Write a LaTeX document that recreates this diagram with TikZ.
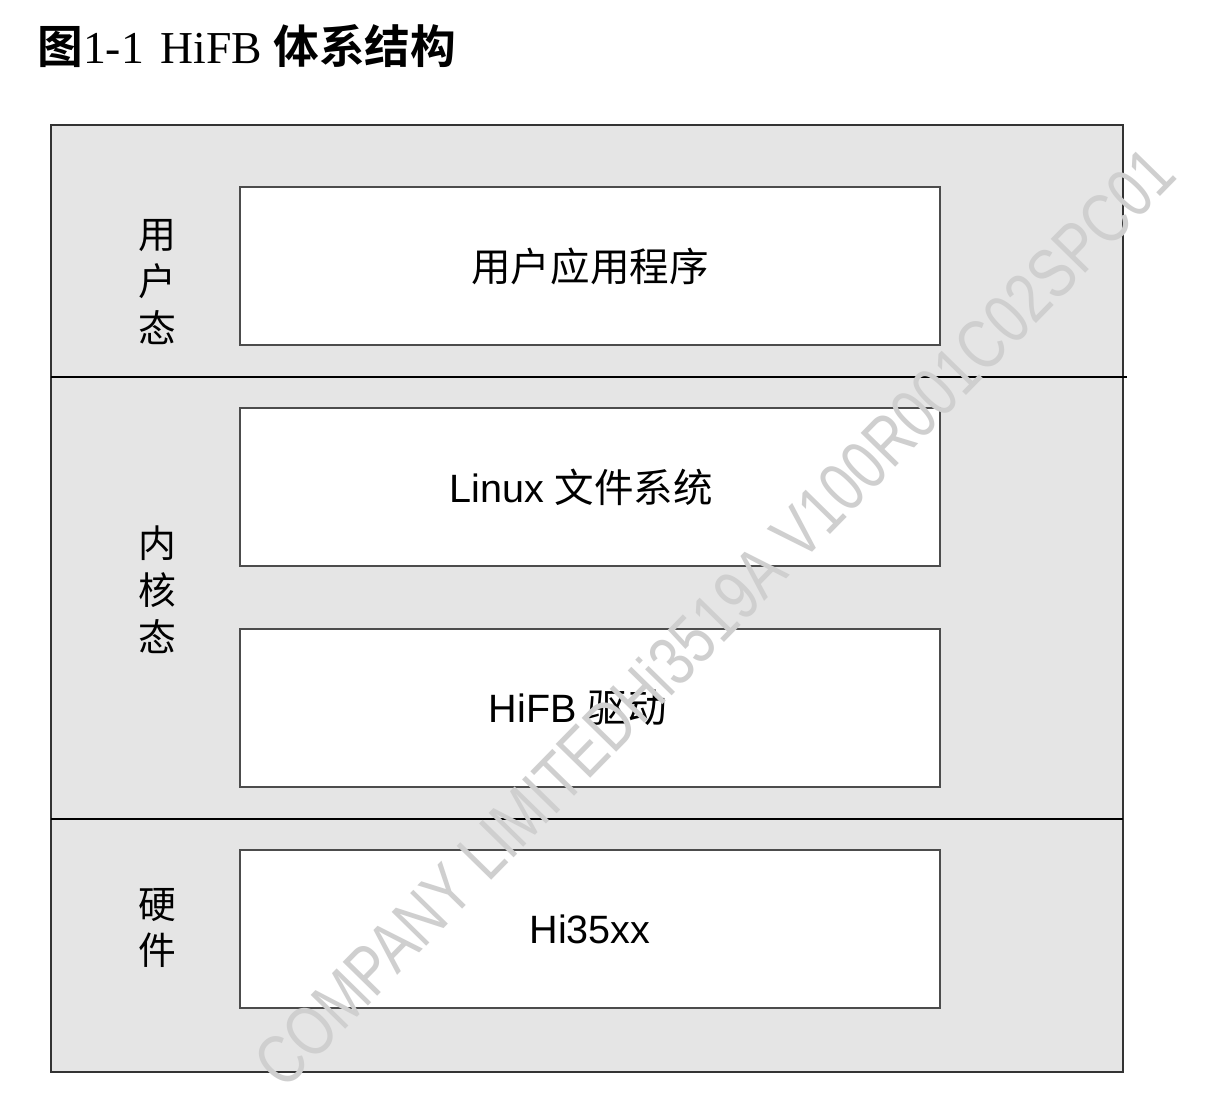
\documentclass[tikz,border=0pt]{standalone}
\usepackage{fontspec}
\setmainfont{Liberation Serif}
\setsansfont{Liberation Sans}
\newfontfamily\cjk{Noto Sans CJK SC}
\newfontfamily\cjkb{Noto Sans CJK SC Bold}
\newcommand{\zh}[1]{{\cjk #1}}
\begin{document}
\begin{tikzpicture}[x=0.02cm, y=-0.02cm,
  layerbg/.style={draw=black!80, line width=1.1pt, fill=black!10},
  divider/.style={draw=black, line width=1.4pt},
  modbox/.style={draw=black!70, line width=1.1pt, fill=white, minimum width=14cm,
    minimum height=3.16cm, inner sep=0pt, font=\fontsize{22.5}{27}\sffamily},
  sidelabel/.style={align=center, inner sep=0pt, font=\fontsize{21.5}{26.7}\cjk},
  watermark/.style={text=black!19, inner sep=0pt, font=\fontsize{40}{40}\sffamily}]
  \useasboundingbox (0,0) rectangle (1232,1112);
  \node[anchor=base west, inner sep=0pt, font=\fontsize{26}{30}\selectfont] (title) at (37,63)
    {{\cjkb 图}1-1\hspace{3pt} HiFB {\cjkb 体系结构}};
  % layers
  \draw[layerbg] (51,125) rectangle (1123,1072);
  \draw[divider] (51,377) -- (1127,377);
  \draw[divider] (51,819) -- (1123,819);
  % modules
  \node[modbox] (app) at (590,266) {\zh{用户应用程序}};
  \node[modbox] (fs) at (590,487) {\hspace{-10pt}Linux \zh{文件系统}};
  \node[modbox] (drv) at (590,708) {\hspace{-14pt}HiFB \zh{驱动}};
  \node[modbox] (chip) at (590,929) {Hi35xx};
  \node[sidelabel] (user) at (157,282) {用\\户\\态};
  \node[sidelabel] (kernel) at (157,590) {内\\核\\态};
  \node[sidelabel] (hw) at (157,928) {硬\\件};
  \begin{scope}
    \clip (0,0) rectangle (1232,1112);
    \node[watermark, anchor=base west, rotate=45.6, xscale=0.79] (wm) at (284,1092)
      {COMPANY LIMITEDHi3519A V100R001C02SPC01};
  \end{scope}
\end{tikzpicture}
\end{document}
